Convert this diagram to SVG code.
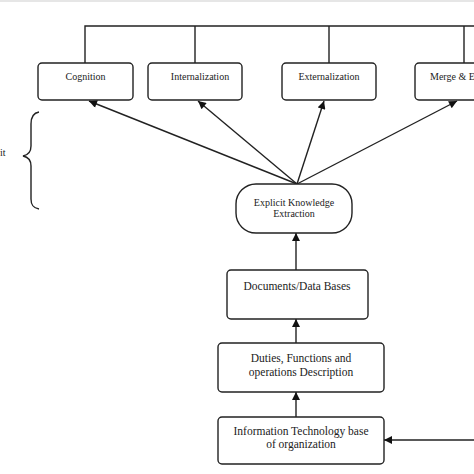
<svg xmlns="http://www.w3.org/2000/svg" width="474" height="474" viewBox="0 0 474 474">
<style>
.box{fill:#fff;stroke:#222;stroke-width:1.4}
.ln{fill:none;stroke:#222;stroke-width:1.4}
.t{font-family:"Liberation Serif","Times New Roman",serif;font-size:10px;fill:#222;text-anchor:middle}
.tl{font-family:"Liberation Serif","Times New Roman",serif;font-size:11.5px;fill:#222;text-anchor:middle}
</style>
<defs>
<marker id="ah" viewBox="0 0 10 10" refX="10" refY="5" markerWidth="10" markerHeight="8" markerUnits="userSpaceOnUse" orient="auto">
<path d="M0,0 L10,5 L0,10 z" fill="#111"/>
</marker>
</defs>
<rect x="0" y="0" width="474" height="474" fill="#fff"/>
<rect x="0" y="0" width="474" height="2" fill="#e6e6e6"/>
<g id="connectors">
<path class="ln" d="M85,63 V26 H474 M195,26 V63 M329,26 V63 M464,26 V63"/>
<line class="ln" x1="297" y1="184" x2="89" y2="101" marker-end="url(#ah)"/>
<line class="ln" x1="297" y1="184" x2="198" y2="101" marker-end="url(#ah)"/>
<line class="ln" x1="297" y1="184" x2="324" y2="101" marker-end="url(#ah)"/>
<line class="ln" x1="297" y1="184" x2="457" y2="101" marker-end="url(#ah)"/>
<line class="ln" x1="296" y1="270" x2="296" y2="233" marker-end="url(#ah)"/>
<line class="ln" x1="296" y1="343" x2="296" y2="319" marker-end="url(#ah)"/>
<line class="ln" x1="296" y1="417" x2="296" y2="392" marker-end="url(#ah)"/>
<line class="ln" x1="474" y1="440" x2="384" y2="440" marker-end="url(#ah)"/>
</g>
<g id="cognition"><rect class="box" x="38" y="63" width="95" height="37" rx="4"/><text class="t" x="85.5" y="80">Cognition</text></g>
<g id="internalization"><rect class="box" x="148" y="63" width="94" height="37" rx="4"/><text class="t" x="200" y="80">Internalization</text></g>
<g id="externalization"><rect class="box" x="282" y="63" width="94" height="37" rx="4"/><text class="t" x="329" y="80">Externalization</text></g>
<g id="merge"><rect class="box" x="415" y="63" width="94" height="37" rx="4"/><text class="t" x="430" y="80" style="text-anchor:start">Merge &amp; E</text></g>
<g id="explicit"><rect class="box" x="236" y="184" width="116" height="49" rx="20"/><text class="t" x="294" y="206">Explicit Knowledge</text><text class="t" x="294" y="217">Extraction</text></g>
<g id="documents"><rect class="box" x="227" y="270" width="141" height="49" rx="4"/><text class="tl" x="297" y="290">Documents/Data Bases</text></g>
<g id="duties"><rect class="box" x="218" y="343" width="166" height="49" rx="4"/><text class="tl" x="301" y="362">Duties, Functions and</text><text class="tl" x="301" y="376">operations Description</text></g>
<g id="it"><rect class="box" x="218" y="417" width="166" height="47" rx="4"/><text class="tl" x="301" y="435">Information Technology base</text><text class="tl" x="301" y="448">of organization</text></g>
<g id="brace">
<path class="ln" d="M39,112 C33,113 31,117 31,124 V146 C31,152 28,155 23,156 C28,157 31,160 31,166 V199 C31,205 33,208 39,209"/>
<text class="t" x="0" y="156" style="text-anchor:start">it</text>
</g>
</svg>
